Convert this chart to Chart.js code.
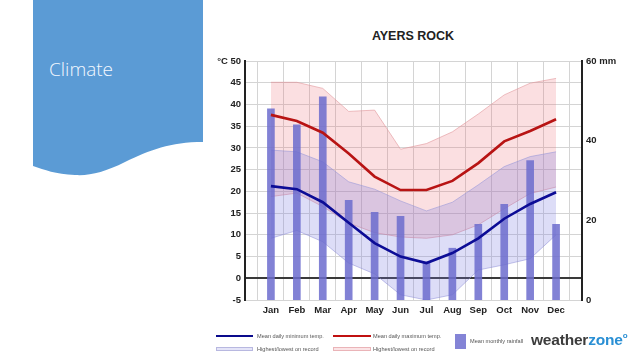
<!DOCTYPE html>
<html><head><meta charset="utf-8">
<script src="https://cdn.jsdelivr.net/npm/chart.js@4"></script>
<style>
html,body{margin:0;padding:0;background:#fff;width:638px;height:359px;overflow:hidden;font-family:"Liberation Sans",Arial,sans-serif;}
#wrap{position:relative;width:638px;height:359px;}
#c{position:absolute;left:0;top:0;}
.abs{position:absolute;white-space:nowrap;}
.lg{font-size:5.6px;color:#555;line-height:8px;}
</style></head>
<body><div id="wrap">
<svg class="abs" style="left:0;top:0" width="638" height="200"><path d="M33,0 H203 V142 C170,142 150,150 125,162 C105,172 90,176 75,175 C55,174 45,170 33,166 Z" fill="#5B9BD5"/></svg>
<div class="abs" style="left:49px;top:56px;font-family:'Open Sans',sans-serif;font-size:19px;color:#f4f8ff;font-weight:300;">Climate</div>
<div class="abs" style="left:0;width:826px;top:29px;text-align:center;font-weight:bold;font-size:12.5px;color:#222;">AYERS ROCK</div>
<canvas id="c" width="638" height="359"></canvas>
<div class="abs" style="left:216px;top:335px;width:37px;height:2px;background:#0a0a8c"></div>
<div class="abs lg" style="left:257px;top:332px">Mean daily minimum temp.</div>
<div class="abs" style="left:216px;top:347px;width:35px;height:2px;background:#e4e4f8;border:1px solid #b8b8e0"></div>
<div class="abs lg" style="left:257px;top:345px">Highest/lowest on record</div>
<div class="abs" style="left:333px;top:335px;width:38px;height:2px;background:#c01010"></div>
<div class="abs lg" style="left:373px;top:332px">Mean daily maximum temp.</div>
<div class="abs" style="left:333px;top:347px;width:36px;height:2px;background:#fbe4e6;border:1px solid #eab4b8"></div>
<div class="abs lg" style="left:373px;top:345px">Highest/lowest on record</div>
<div class="abs" style="left:455px;top:334px;width:11px;height:15px;background:#8484d6"></div>
<div class="abs lg" style="left:470px;top:337px">Mean monthly rainfall</div>
<div class="abs" style="left:531px;top:331px;font-size:15.5px;font-weight:bold;letter-spacing:-0.2px;color:#3c3c3c">weather<span style="color:#2a8fd4">zone</span><span style="font-size:8px;color:#2a8fd4;vertical-align:7px">o</span></div>
</div>
<script>
const months = ['Jan','Feb','Mar','Apr','May','Jun','Jul','Aug','Sep','Oct','Nov','Dec'];
const rainfall = [48, 44, 51, 25, 22, 21, 9.5, 13, 19, 24, 35, 19];
const meanMax = [37.6, 36.2, 33.5, 28.7, 23.4, 20.3, 20.3, 22.4, 26.5, 31.5, 33.9, 36.6];
const meanMin = [21.2, 20.5, 17.5, 12.8, 8.1, 5.0, 3.5, 5.8, 9.2, 13.7, 17.1, 19.8];
const recHighMax = [45.1, 45.1, 43.7, 38.4, 38.7, 29.7, 31.0, 33.7, 37.8, 42.2, 44.9, 46.0];
const recLowMax = [18.8, 19.6, 16.5, 12.7, 10.5, 9.5, 9.2, 10.0, 12.3, 16.0, 19.5, 21.0];
const recHighMin = [29.5, 29.1, 26.8, 22.2, 20.5, 17.8, 15.5, 17.5, 21.5, 25.7, 28.0, 29.1];
const recLowMin = [9.2, 11.0, 8.4, 3.5, 1.0, -3.8, -5.0, -3.8, 1.9, 3.1, 4.5, 10.0];
const tempTicks = [-5,0,5,10,15,20,25,30,35,40,45,50];
const rainTicks = [0,20,40,60];

const labels = [''].concat(months, ['']);
const pad = a => [null].concat(a, [null]);
const bold = {family:'"Liberation Sans", Arial, sans-serif', size:9.5, weight:'bold'};

new Chart(document.getElementById('c'), {
  data: {
    labels: labels,
    datasets: [
      {type:'line', data: pad(meanMin), yAxisID:'y', borderColor:'#0c0c96', borderWidth:2.6, pointRadius:0, fill:false, order:0},
      {type:'line', data: pad(meanMax), yAxisID:'y', borderColor:'#b81414', borderWidth:2.6, pointRadius:0, fill:false, order:1},
      {type:'bar', data: pad(rainfall), yAxisID:'y1', backgroundColor:'rgba(108,108,206,0.85)', barThickness:7, order:2},
      {type:'line', data: pad(recHighMin), yAxisID:'y', borderColor:'rgba(150,150,215,0.55)', borderWidth:1, pointRadius:0, fill:'+1', backgroundColor:'rgba(120,120,222,0.25)', order:3},
      {type:'line', data: pad(recLowMin), yAxisID:'y', borderColor:'rgba(150,150,215,0.55)', borderWidth:1, pointRadius:0, fill:false, order:4},
      {type:'line', data: pad(recHighMax), yAxisID:'y', borderColor:'rgba(225,150,155,0.6)', borderWidth:1, pointRadius:0, fill:'+1', backgroundColor:'rgba(235,110,120,0.22)', order:5},
      {type:'line', data: pad(recLowMax), yAxisID:'y', borderColor:'rgba(225,150,155,0.6)', borderWidth:1, pointRadius:0, fill:false, order:6}
    ]
  },
  options: {
    responsive:false, animation:false, devicePixelRatio:1,
    layout:{padding:{left:200, right:16, top:61, bottom:39}},
    plugins:{legend:{display:false}, tooltip:{enabled:false}, title:{display:false}},
    scales:{
      x:{type:'category', offset:false,
         grid:{color:'#d4d4d4', lineWidth:1, drawTicks:false},
         border:{display:false},
         ticks:{autoSkip:false, maxRotation:0, padding:5, color:'#222', font:bold},
         afterFit: s => { s.height = 20; }},
      y:{type:'linear', position:'left', min:-5, max:50,
         afterBuildTicks: s => { s.ticks = tempTicks.map(v => ({value:v})); },
         grid:{drawTicks:false, color: c => c.tick && c.tick.value === 0 ? '#3a3a3a' : '#d4d4d4', lineWidth: c => c.tick && c.tick.value === 0 ? 2 : 1},
         border:{display:true, color:'#222', width:2},
         ticks:{padding:4, color:'#222', font:bold, callback: v => v === 50 ? '°C 50' : String(v)},
         afterFit: s => { s.width = 45; }},
      y1:{type:'linear', position:'right', min:0, max:60,
         afterBuildTicks: s => { s.ticks = rainTicks.map(v => ({value:v})); },
         grid:{display:false, drawTicks:false},
         border:{display:true, color:'#222', width:2},
         ticks:{padding:4, color:'#222', font:bold, callback: v => v === 60 ? '60 mm' : String(v)},
         afterFit: s => { s.width = 40; }}
    }
  }
});
</script>
</body></html>
